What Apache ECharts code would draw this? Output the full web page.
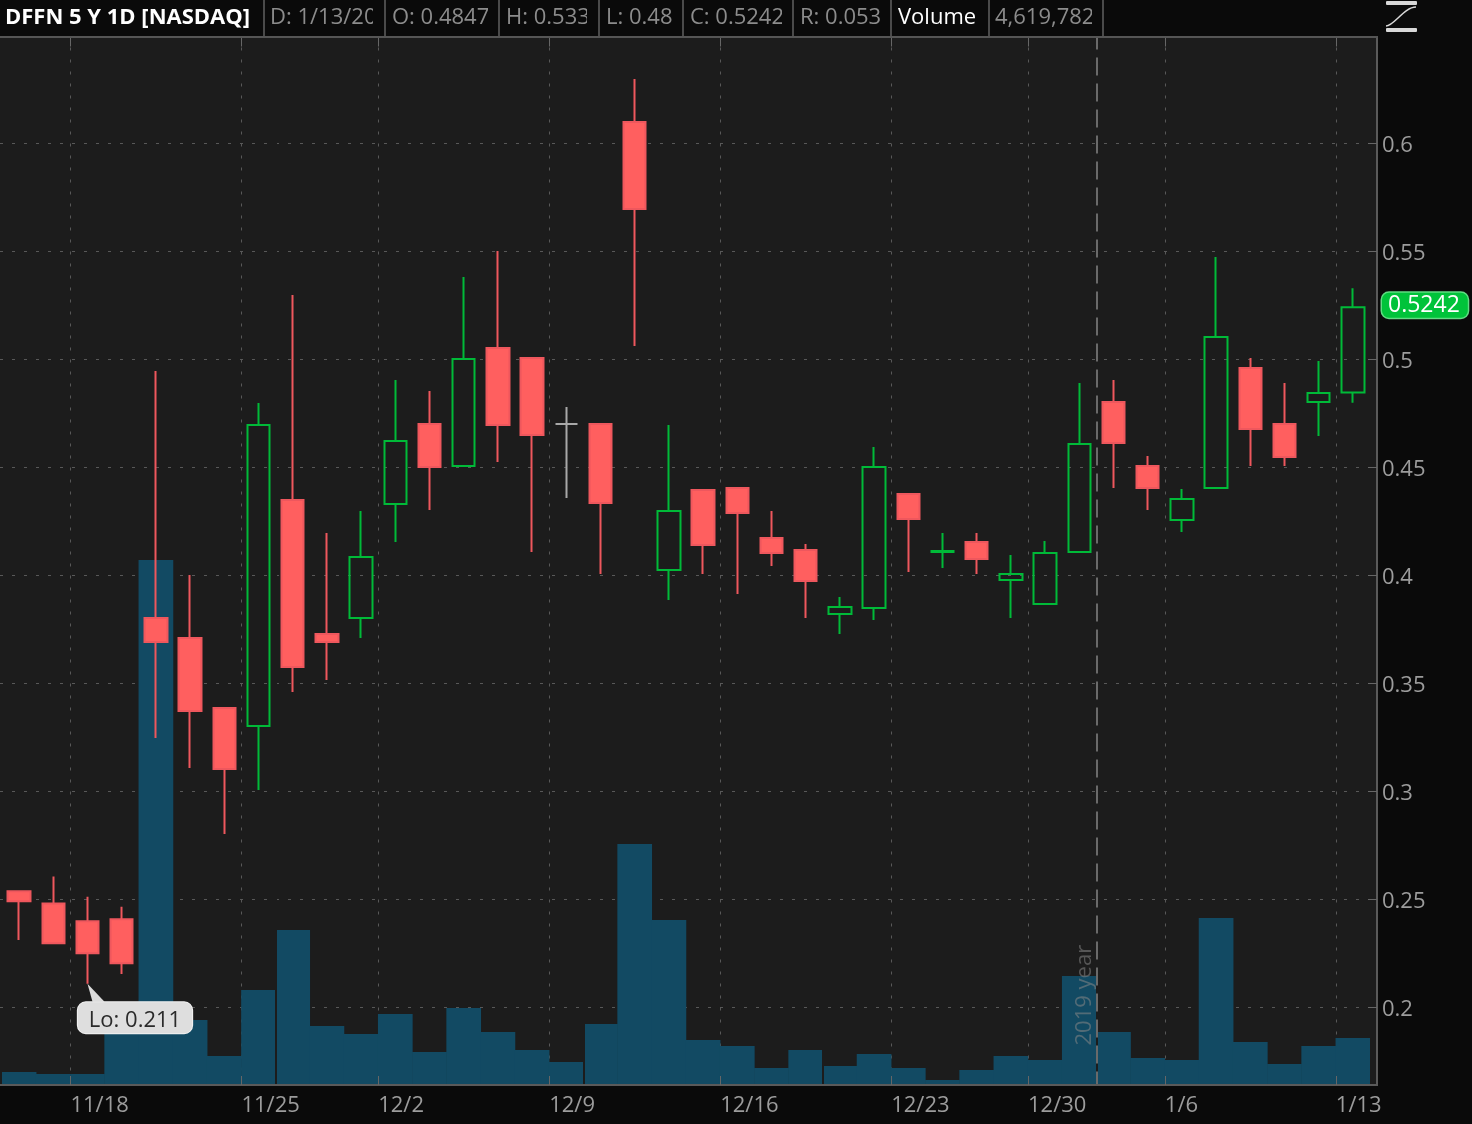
<!DOCTYPE html>
<html><head><meta charset="utf-8">
<style>html,body{margin:0;padding:0;background:#0a0a0a}#c{width:1472px;height:1124px}</style>
<script src="https://cdn.jsdelivr.net/npm/echarts@6/dist/echarts.min.js"></script>
</head><body><div id="c"></div>
<script>
const categories = ['11/14','11/15','11/18','11/19','11/20','11/21','11/22','11/25','11/26','11/27','11/29','12/2','12/3','12/4','12/5','12/6','12/9','12/10','12/11','12/12','12/13','12/16','12/17','12/18','12/19','12/20','12/23','12/24','12/26','12/27','12/30','12/31','1/2','1/3','1/6','1/7','1/8','1/9','1/10','1/13'];
const opens  = [.2538,.2482,.2399,.2408,.3803,.3711,.3387,.3303,.4350,.3729,.3803,.4331,.4701,.4507,.5053,.5007,.4701,.4701,.6100,.4025,.4396,.4405,.4174,.4118,.3822,.3850,.4377,.4109,.4155,.3979,.3868,.4109,.4803,.4507,.4257,.4405,.4961,.4701,.4803,.4847];
const closes = [.2492,.2297,.2251,.2205,.3692,.3373,.3104,.4697,.3576,.3692,.4086,.4623,.4502,.5002,.4697,.4650,.4701,.4336,.5697,.4299,.4141,.4289,.4104,.3975,.3854,.4502,.4262,.4113,.4076,.4007,.4104,.4609,.4613,.4405,.4354,.5104,.4678,.4549,.4845,.5242];
const lows   = [.2312,.2297,.2110,.2155,.3248,.3109,.2803,.3007,.3461,.3516,.3711,.4155,.4303,.4507,.4525,.4109,.4359,.4007,.5062,.3887,.4007,.3914,.4044,.3803,.3729,.3794,.4016,.4035,.4007,.3803,.3868,.4109,.4405,.4303,.4201,.4405,.4507,.4507,.4646,.4800];
const highs  = [.2538,.2606,.2513,.2467,.4947,.4002,.3387,.4799,.5299,.4197,.4299,.4905,.4854,.5382,.5502,.5007,.4780,.4701,.6299,.4697,.4396,.4405,.4299,.4146,.3900,.4595,.4377,.4197,.4197,.4095,.4160,.4891,.4905,.4553,.4400,.5475,.5007,.4891,.4993,.5330];
const volumes = [1.21,1.00,1.00,5.22,52.63,6.43,2.81,9.44,15.47,5.82,5.02,7.03,3.21,7.63,5.22,3.41,2.21,6.03,24.10,16.47,4.42,3.82,1.61,3.41,1.81,3.01,1.61,0.40,1.41,2.81,2.41,10.85,5.22,2.61,2.41,16.67,4.22,2.01,3.82,4.62];
const weekStarts = ['11/18','11/25','12/2','12/9','12/16','12/23','12/30','1/6','1/13'];
const blockStarts = ['11/26','12/10','12/19','1/2'];
const yearStart = '1/2';
const headerCells = [
  {t:'D: 1/13/20', x:270, end:373, sep:385, c:'#8c8c8c'},
  {t:'O: 0.4847', x:392, end:488, sep:499, c:'#8c8c8c'},
  {t:'H: 0.533', x:506, end:587, sep:599, c:'#8c8c8c'},
  {t:'L: 0.48', x:606, end:673, sep:683, c:'#8c8c8c'},
  {t:'C: 0.5242', x:690, end:782, sep:793, c:'#8c8c8c'},
  {t:'R: 0.053', x:800, end:880, sep:891, c:'#8c8c8c'},
  {t:'Volume', x:898, end:979, sep:989, c:'#ffffff'},
  {t:'4,619,782', x:995, end:1092, sep:1103, c:'#8c8c8c'}
];

const FONT = '"Open Sans"', RED='#ff5f5f', REDB='#ee575d', GREEN='#00ba38', GREY='#a8a8a8', TXT='#9c9c9c';
const gridTop = 35.5, gridH = 1080;
const isWeek = (i, v) => weekStarts.includes(v);
const boundaries = categories.concat(['end']);

const candleData = opens.map((o, i) => {
  const v = [o, closes[i], lows[i], highs[i]];
  return o === closes[i]
    ? {value: v, itemStyle: {color: GREY, color0: GREY, borderColor: GREY, borderColor0: GREY, borderColorDoji: GREY}}
    : v;
});

const hdr = [
  {type:'rect', z:3.5, shape:{x:0,y:0,width:1472,height:36}, style:{fill:'#0a0a0a'}},
  {type:'rect', z:3.5, shape:{x:0,y:36,width:1378,height:2}, style:{fill:'#555555'}},
  {type:'rect', z:3.5, shape:{x:0,y:1086,width:1379,height:38}, style:{fill:'#0a0a0a'}},
  {type:'rect', z:3.5, shape:{x:0,y:1084,width:1378,height:2}, style:{fill:'#5a5a5a'}},
  {type:'rect', z:3.6, shape:{x:263,y:0,width:2,height:36}, style:{fill:'#4a4a4a'}},
  {type:'text', z:3.7, x:5, y:18, style:{text:'DFFN 5 Y 1D [NASDAQ]', font:'bold 22px '+FONT, fill:'#fff', verticalAlign:'middle'}},
  {type:'rect', z:5, shape:{x:1386,y:1,width:31,height:4,r:1}, style:{fill:'#d8d8d8'}},
  {type:'rect', z:5, shape:{x:1386,y:28,width:31,height:4,r:1}, style:{fill:'#d8d8d8'}},
  {type:'bezierCurve', z:5, shape:{x1:1386,y1:26,x2:1416,y2:7,cpx1:1394,cpy1:26,cpx2:1404,cpy2:7}, style:{fill:'none', stroke:'#d8d8d8', lineWidth:1.5}}
];
headerCells.forEach(c => {
  hdr.push({type:'text', z:3.7, x:c.x, y:18, style:{text:c.t, font:'22px '+FONT, fill:c.c, verticalAlign:'middle'}});
  hdr.push({type:'rect', z:3.8, shape:{x:c.end,y:0,width:c.sep-c.end,height:36}, style:{fill:'#0a0a0a'}});
  hdr.push({type:'rect', z:3.9, shape:{x:c.sep-1,y:0,width:2,height:36}, style:{fill:'#4a4a4a'}});
});

const dotted = {color:'#585858', width:1, type:[3,9]};
const boundaryAxis = (pos, extra) => Object.assign({
  type:'category', gridIndex:1, position:pos, boundaryGap:false, data:boundaries,
  axisLine:{show:false},
  axisTick:{show:true, inside:true, length:9, interval:isWeek, lineStyle:{color:'#666'}},
}, extra);

const chart = echarts.init(document.getElementById('c'), null, {renderer:'canvas'});
chart.setOption({
  backgroundColor:'#0a0a0a',
  animation:false,
  graphic:hdr,
  grid:[
    {left:-2, right:95, top:gridTop, height:gridH, show:true, backgroundColor:'#1c1c1c', borderWidth:0},
    {left:2, width:1368, top:gridTop, height:gridH, show:false}
  ],
  xAxis:[
    {type:'value', gridIndex:0, min:0, max:1, show:false},
    {type:'category', gridIndex:1, position:'bottom', data:categories, show:false},
    boundaryAxis('top', {
      axisLabel:{show:false},
      offset:-2,
      splitLine:{show:true, interval:isWeek, lineStyle:dotted}
    }),
    boundaryAxis('bottom', {
      z:5, offset:-30.5,
      axisLabel:{show:true, interval:isWeek, align:'left', margin:10, color:TXT, fontFamily:FONT, fontSize:22,
        formatter:v => weekStarts.includes(v) ? v : ''},
      splitLine:{show:false}
    })
  ],
  yAxis:[
    {type:'value', gridIndex:0, position:'right', min:0.15, max:0.65, interval:0.05,
      axisLine:{show:true, onZero:false, lineStyle:{color:'#5a5a5a', width:2}},
      axisTick:{show:true, inside:true, length:9, lineStyle:{color:'#666'}},
      axisLabel:{show:true, color:TXT, fontFamily:FONT, fontSize:22, margin:5, showMinLabel:false, showMaxLabel:false,
        formatter:v => '{a|' + (+v.toFixed(2)) + '}',
        rich:{a:{color:TXT, fontFamily:FONT, fontSize:22, padding:[4,0,0,0]}}},
      splitLine:{show:true, lineStyle:dotted}},
    {type:'value', gridIndex:1, min:0.15, max:0.65, show:false, splitLine:{show:false}},
    {type:'value', gridIndex:1, min:-3.1636, max:105.3, show:false, splitLine:{show:false}}
  ],
  series:[
    {name:'Volume', type:'bar', xAxisIndex:1, yAxisIndex:2, data:volumes, barWidth:34.7, z:2, silent:true,
      itemStyle:{color:'#124a63'}},
    {name:'Week blocks', type:'line', xAxisIndex:2, yAxisIndex:1, data:[], z:2.5, silent:true, symbol:'none',
      markLine:{silent:true, symbol:'none', z:2.5, animation:false, label:{show:false},
        lineStyle:{color:'#1c1c1c', width:2, type:'solid'},
        data:blockStarts.map(d => ({xAxis:d}))}},
    {name:'Year', type:'line', xAxisIndex:2, yAxisIndex:1, data:[], z:3, silent:true, symbol:'none',
      markLine:{silent:true, symbol:'none', z:3, animation:false,
        lineStyle:{color:'#6a6a6a', width:2, type:[18,8]},
        label:{show:true, formatter:'2019 year', position:'insideStartTop', distance:[70,1],
          color:'rgba(135,135,135,0.55)', fontFamily:FONT, fontSize:22},
        data:[{xAxis:yearStart}]}},
    {name:'DFFN', type:'candlestick', xAxisIndex:1, yAxisIndex:1, data:candleData, barWidth:23, z:4, silent:true,
      itemStyle:{color:'transparent', color0:RED, borderColor:GREEN, borderColor0:REDB, borderColorDoji:GREEN, borderWidth:2},
      markPoint:{silent:true, animation:false, z:6,
        data:[
          {coord:['11/18',0.211], symbol:'path://M0,0 L5,18 L17,18 Z', symbolSize:[17,18], symbolOffset:[8.5,9],
            itemStyle:{color:'#dcdcdc', borderWidth:0},
            label:{show:true, position:'inside', offset:[39,25], formatter:'{a|Lo: 0.211}',
              rich:{a:{color:'#2a2a2a', fontFamily:FONT, fontSize:22, padding:[4,0,0,0]}},
              backgroundColor:'#dedede', borderColor:'#f2f2f2', borderWidth:1, borderRadius:8, padding:[3,11,2,11]}},
          {coord:['1/13',0.5242], symbol:'rect', symbolSize:1, itemStyle:{color:'rgba(0,0,0,0)', borderWidth:0},
            label:{show:true, position:'inside', offset:[72,-2], formatter:'0.5242', color:'#fff', fontFamily:FONT, fontSize:23,
              backgroundColor:'#00c33a', borderColor:'#5fdc82', borderWidth:1.5, borderRadius:7, padding:[2,8,0,6]}}
        ]}}
  ]
});
</script></body></html>
